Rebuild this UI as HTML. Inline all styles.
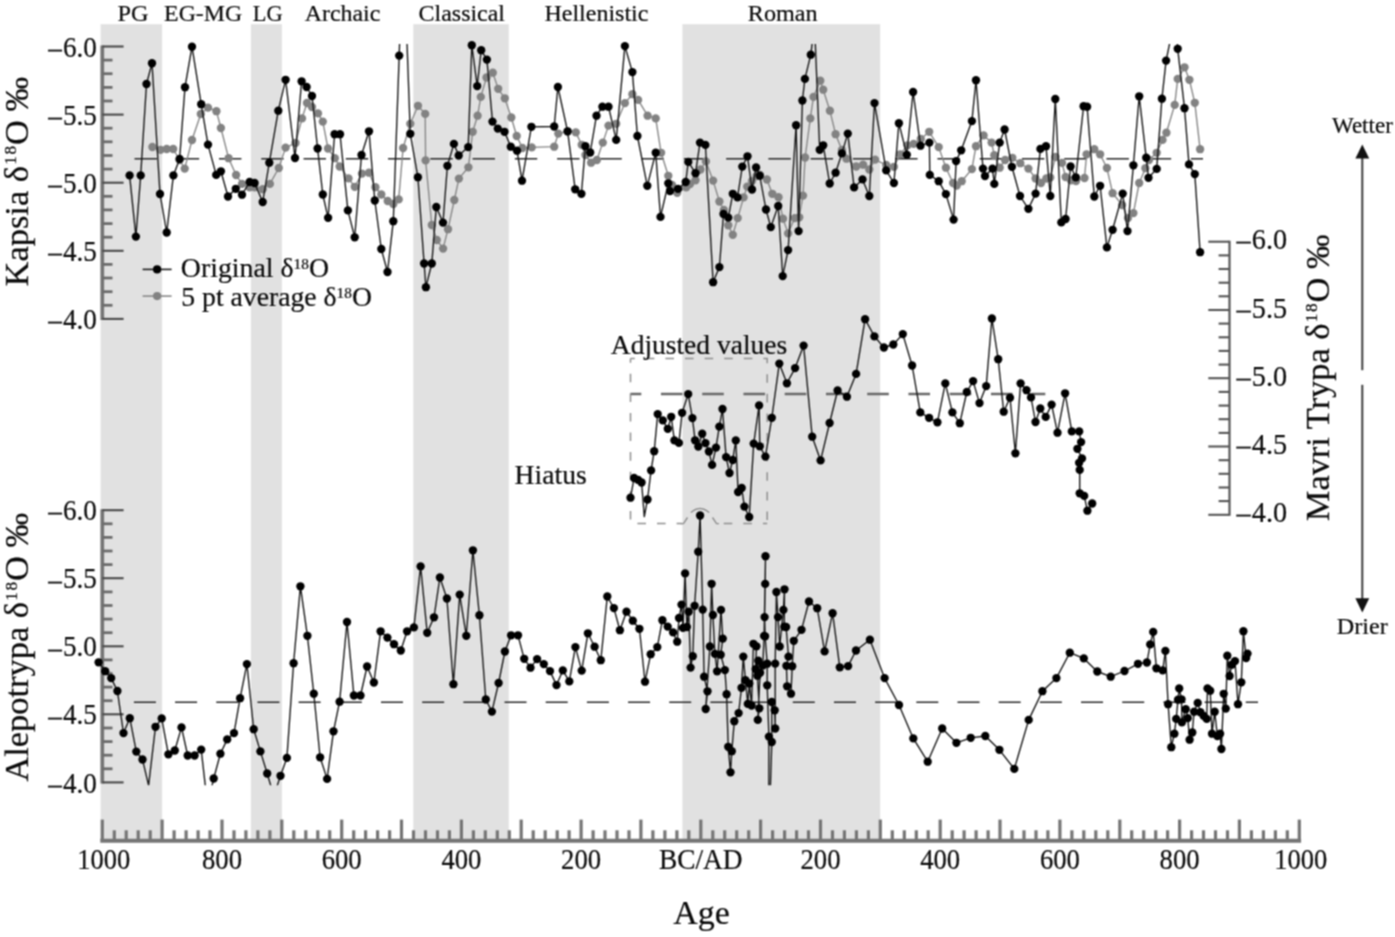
<!DOCTYPE html>
<html lang="en"><head><meta charset="utf-8"><title>Speleothem δ18O records: Kapsia, Mavri Trypa, Alepotrypa</title>
<style>
html,body{margin:0;padding:0;background:#fff;}
body{width:1395px;height:937px;overflow:hidden;}
svg{display:block;font-family:"Liberation Serif","DejaVu Serif",serif;fill:#0a0a0a;}
text{stroke:#0a0a0a;stroke-width:0.2px;}
.ax{stroke:#757575;fill:none;}
.tl{font-size:28.6px;}
.per{font-size:24px;text-anchor:middle;}
.in{font-size:27px;}
.ttl{font-size:34.5px;}
.sm{font-size:22.5px;}
</style></head><body>
<svg width="1395" height="937" viewBox="0 0 1395 937">
<defs>
<filter id="soft" filterUnits="userSpaceOnUse" x="-5" y="-5" width="1405" height="947" color-interpolation-filters="sRGB"><feConvolveMatrix order="3" kernelMatrix="1 2 1 2 4 2 1 2 1" divisor="16" edgeMode="duplicate" preserveAlpha="true"/></filter>
<clipPath id="ck"><rect x="95" y="44" width="1200" height="300"/></clipPath>
<clipPath id="ca"><rect x="95" y="500" width="1200" height="285.2"/></clipPath>
</defs>
<g filter="url(#soft)">
<rect x="-5" y="-5" width="1405" height="947" fill="#fff"/>
<rect x="100.6" y="24.2" width="61.5" height="816.3" fill="#e1e1e1"/>
<rect x="250.9" y="24.2" width="31.0" height="816.3" fill="#e1e1e1"/>
<rect x="413.3" y="24.2" width="95.5" height="816.3" fill="#e1e1e1"/>
<rect x="682.4" y="24.2" width="197.8" height="816.3" fill="#e1e1e1"/>
<text class="per" x="133.0" y="20.6" textLength="31.0" lengthAdjust="spacingAndGlyphs">PG</text>
<text class="per" x="203.1" y="20.6" textLength="78.0" lengthAdjust="spacingAndGlyphs">EG-MG</text>
<text class="per" x="267.8" y="20.6" textLength="29.9" lengthAdjust="spacingAndGlyphs">LG</text>
<text class="per" x="342.5" y="20.6" textLength="75.7" lengthAdjust="spacingAndGlyphs">Archaic</text>
<text class="per" x="461.8" y="20.6" textLength="86.4" lengthAdjust="spacingAndGlyphs">Classical</text>
<text class="per" x="596.4" y="20.6" textLength="104.0" lengthAdjust="spacingAndGlyphs">Hellenistic</text>
<text class="per" x="782.7" y="20.6" textLength="69.9" lengthAdjust="spacingAndGlyphs">Roman</text>
<line class="ax" x1="102.3" y1="45.5" x2="102.3" y2="319.9" stroke-width="3.7"/>
<line x1="102.3" y1="46.5" x2="123.6" y2="46.5" stroke="#4a4a4a" stroke-width="2.1"/>
<line x1="102.3" y1="60.1" x2="112.5" y2="60.1" stroke="#6c6c6c" stroke-width="2.8"/>
<line x1="102.3" y1="73.7" x2="112.5" y2="73.7" stroke="#6c6c6c" stroke-width="2.8"/>
<line x1="102.3" y1="87.4" x2="112.5" y2="87.4" stroke="#6c6c6c" stroke-width="2.8"/>
<line x1="102.3" y1="101.0" x2="112.5" y2="101.0" stroke="#6c6c6c" stroke-width="2.8"/>
<line x1="102.3" y1="114.6" x2="123.6" y2="114.6" stroke="#4a4a4a" stroke-width="2.1"/>
<line x1="102.3" y1="128.2" x2="112.5" y2="128.2" stroke="#6c6c6c" stroke-width="2.8"/>
<line x1="102.3" y1="141.8" x2="112.5" y2="141.8" stroke="#6c6c6c" stroke-width="2.8"/>
<line x1="102.3" y1="155.5" x2="112.5" y2="155.5" stroke="#6c6c6c" stroke-width="2.8"/>
<line x1="102.3" y1="169.1" x2="112.5" y2="169.1" stroke="#6c6c6c" stroke-width="2.8"/>
<line x1="102.3" y1="182.7" x2="123.6" y2="182.7" stroke="#4a4a4a" stroke-width="2.1"/>
<line x1="102.3" y1="196.3" x2="112.5" y2="196.3" stroke="#6c6c6c" stroke-width="2.8"/>
<line x1="102.3" y1="209.9" x2="112.5" y2="209.9" stroke="#6c6c6c" stroke-width="2.8"/>
<line x1="102.3" y1="223.6" x2="112.5" y2="223.6" stroke="#6c6c6c" stroke-width="2.8"/>
<line x1="102.3" y1="237.2" x2="112.5" y2="237.2" stroke="#6c6c6c" stroke-width="2.8"/>
<line x1="102.3" y1="250.8" x2="123.6" y2="250.8" stroke="#4a4a4a" stroke-width="2.1"/>
<line x1="102.3" y1="264.4" x2="112.5" y2="264.4" stroke="#6c6c6c" stroke-width="2.8"/>
<line x1="102.3" y1="278.0" x2="112.5" y2="278.0" stroke="#6c6c6c" stroke-width="2.8"/>
<line x1="102.3" y1="291.7" x2="112.5" y2="291.7" stroke="#6c6c6c" stroke-width="2.8"/>
<line x1="102.3" y1="305.3" x2="112.5" y2="305.3" stroke="#6c6c6c" stroke-width="2.8"/>
<line x1="102.3" y1="318.9" x2="123.6" y2="318.9" stroke="#4a4a4a" stroke-width="2.1"/>
<text class="tl" x="48.2" y="56.6" textLength="48.6" lengthAdjust="spacingAndGlyphs"><tspan dy="1.1">–</tspan><tspan dy="-1.1" dx="1.2">6.0</tspan></text>
<text class="tl" x="48.2" y="124.7" textLength="48.6" lengthAdjust="spacingAndGlyphs"><tspan dy="1.1">–</tspan><tspan dy="-1.1" dx="1.2">5.5</tspan></text>
<text class="tl" x="48.2" y="192.8" textLength="48.6" lengthAdjust="spacingAndGlyphs"><tspan dy="1.1">–</tspan><tspan dy="-1.1" dx="1.2">5.0</tspan></text>
<text class="tl" x="48.2" y="260.9" textLength="48.6" lengthAdjust="spacingAndGlyphs"><tspan dy="1.1">–</tspan><tspan dy="-1.1" dx="1.2">4.5</tspan></text>
<text class="tl" x="48.2" y="329.0" textLength="48.6" lengthAdjust="spacingAndGlyphs"><tspan dy="1.1">–</tspan><tspan dy="-1.1" dx="1.2">4.0</tspan></text>
<line class="ax" x1="102.3" y1="509.2" x2="102.3" y2="783.4" stroke-width="3.7"/>
<line x1="102.3" y1="510.2" x2="123.6" y2="510.2" stroke="#4a4a4a" stroke-width="2.1"/>
<line x1="102.3" y1="523.8" x2="112.5" y2="523.8" stroke="#6c6c6c" stroke-width="2.8"/>
<line x1="102.3" y1="537.4" x2="112.5" y2="537.4" stroke="#6c6c6c" stroke-width="2.8"/>
<line x1="102.3" y1="551.0" x2="112.5" y2="551.0" stroke="#6c6c6c" stroke-width="2.8"/>
<line x1="102.3" y1="564.6" x2="112.5" y2="564.6" stroke="#6c6c6c" stroke-width="2.8"/>
<line x1="102.3" y1="578.2" x2="123.6" y2="578.2" stroke="#4a4a4a" stroke-width="2.1"/>
<line x1="102.3" y1="591.9" x2="112.5" y2="591.9" stroke="#6c6c6c" stroke-width="2.8"/>
<line x1="102.3" y1="605.5" x2="112.5" y2="605.5" stroke="#6c6c6c" stroke-width="2.8"/>
<line x1="102.3" y1="619.1" x2="112.5" y2="619.1" stroke="#6c6c6c" stroke-width="2.8"/>
<line x1="102.3" y1="632.7" x2="112.5" y2="632.7" stroke="#6c6c6c" stroke-width="2.8"/>
<line x1="102.3" y1="646.3" x2="123.6" y2="646.3" stroke="#4a4a4a" stroke-width="2.1"/>
<line x1="102.3" y1="659.9" x2="112.5" y2="659.9" stroke="#6c6c6c" stroke-width="2.8"/>
<line x1="102.3" y1="673.5" x2="112.5" y2="673.5" stroke="#6c6c6c" stroke-width="2.8"/>
<line x1="102.3" y1="687.1" x2="112.5" y2="687.1" stroke="#6c6c6c" stroke-width="2.8"/>
<line x1="102.3" y1="700.7" x2="112.5" y2="700.7" stroke="#6c6c6c" stroke-width="2.8"/>
<line x1="102.3" y1="714.3" x2="123.6" y2="714.3" stroke="#4a4a4a" stroke-width="2.1"/>
<line x1="102.3" y1="728.0" x2="112.5" y2="728.0" stroke="#6c6c6c" stroke-width="2.8"/>
<line x1="102.3" y1="741.6" x2="112.5" y2="741.6" stroke="#6c6c6c" stroke-width="2.8"/>
<line x1="102.3" y1="755.2" x2="112.5" y2="755.2" stroke="#6c6c6c" stroke-width="2.8"/>
<line x1="102.3" y1="768.8" x2="112.5" y2="768.8" stroke="#6c6c6c" stroke-width="2.8"/>
<line x1="102.3" y1="782.4" x2="123.6" y2="782.4" stroke="#4a4a4a" stroke-width="2.1"/>
<text class="tl" x="48.2" y="520.3" textLength="48.6" lengthAdjust="spacingAndGlyphs"><tspan dy="1.1">–</tspan><tspan dy="-1.1" dx="1.2">6.0</tspan></text>
<text class="tl" x="48.2" y="588.4" textLength="48.6" lengthAdjust="spacingAndGlyphs"><tspan dy="1.1">–</tspan><tspan dy="-1.1" dx="1.2">5.5</tspan></text>
<text class="tl" x="48.2" y="656.4" textLength="48.6" lengthAdjust="spacingAndGlyphs"><tspan dy="1.1">–</tspan><tspan dy="-1.1" dx="1.2">5.0</tspan></text>
<text class="tl" x="48.2" y="724.4" textLength="48.6" lengthAdjust="spacingAndGlyphs"><tspan dy="1.1">–</tspan><tspan dy="-1.1" dx="1.2">4.5</tspan></text>
<text class="tl" x="48.2" y="792.5" textLength="48.6" lengthAdjust="spacingAndGlyphs"><tspan dy="1.1">–</tspan><tspan dy="-1.1" dx="1.2">4.0</tspan></text>
<line x1="1229.5" y1="240.7" x2="1229.5" y2="515.8" stroke-width="2.2" stroke="#555"/>
<line x1="1229.5" y1="241.7" x2="1208.3" y2="241.7" stroke-width="2.1" stroke="#555"/>
<line x1="1229.5" y1="255.4" x2="1218.6" y2="255.4" stroke-width="2.1" stroke="#555"/>
<line x1="1229.5" y1="269.0" x2="1218.6" y2="269.0" stroke-width="2.1" stroke="#555"/>
<line x1="1229.5" y1="282.7" x2="1218.6" y2="282.7" stroke-width="2.1" stroke="#555"/>
<line x1="1229.5" y1="296.3" x2="1218.6" y2="296.3" stroke-width="2.1" stroke="#555"/>
<line x1="1229.5" y1="310.0" x2="1208.3" y2="310.0" stroke-width="2.1" stroke="#555"/>
<line x1="1229.5" y1="323.6" x2="1218.6" y2="323.6" stroke-width="2.1" stroke="#555"/>
<line x1="1229.5" y1="337.3" x2="1218.6" y2="337.3" stroke-width="2.1" stroke="#555"/>
<line x1="1229.5" y1="350.9" x2="1218.6" y2="350.9" stroke-width="2.1" stroke="#555"/>
<line x1="1229.5" y1="364.6" x2="1218.6" y2="364.6" stroke-width="2.1" stroke="#555"/>
<line x1="1229.5" y1="378.2" x2="1208.3" y2="378.2" stroke-width="2.1" stroke="#555"/>
<line x1="1229.5" y1="391.9" x2="1218.6" y2="391.9" stroke-width="2.1" stroke="#555"/>
<line x1="1229.5" y1="405.6" x2="1218.6" y2="405.6" stroke-width="2.1" stroke="#555"/>
<line x1="1229.5" y1="419.2" x2="1218.6" y2="419.2" stroke-width="2.1" stroke="#555"/>
<line x1="1229.5" y1="432.9" x2="1218.6" y2="432.9" stroke-width="2.1" stroke="#555"/>
<line x1="1229.5" y1="446.5" x2="1208.3" y2="446.5" stroke-width="2.1" stroke="#555"/>
<line x1="1229.5" y1="460.2" x2="1218.6" y2="460.2" stroke-width="2.1" stroke="#555"/>
<line x1="1229.5" y1="473.8" x2="1218.6" y2="473.8" stroke-width="2.1" stroke="#555"/>
<line x1="1229.5" y1="487.5" x2="1218.6" y2="487.5" stroke-width="2.1" stroke="#555"/>
<line x1="1229.5" y1="501.1" x2="1218.6" y2="501.1" stroke-width="2.1" stroke="#555"/>
<line x1="1229.5" y1="514.8" x2="1208.3" y2="514.8" stroke-width="2.1" stroke="#555"/>
<text class="tl" x="1236.5" y="249.2" textLength="50.6" lengthAdjust="spacingAndGlyphs"><tspan dy="1.1">–</tspan><tspan dy="-1.1" dx="1.2">6.0</tspan></text>
<text class="tl" x="1236.5" y="317.5" textLength="50.6" lengthAdjust="spacingAndGlyphs"><tspan dy="1.1">–</tspan><tspan dy="-1.1" dx="1.2">5.5</tspan></text>
<text class="tl" x="1236.5" y="385.8" textLength="50.6" lengthAdjust="spacingAndGlyphs"><tspan dy="1.1">–</tspan><tspan dy="-1.1" dx="1.2">5.0</tspan></text>
<text class="tl" x="1236.5" y="454.0" textLength="50.6" lengthAdjust="spacingAndGlyphs"><tspan dy="1.1">–</tspan><tspan dy="-1.1" dx="1.2">4.5</tspan></text>
<text class="tl" x="1236.5" y="522.3" textLength="50.6" lengthAdjust="spacingAndGlyphs"><tspan dy="1.1">–</tspan><tspan dy="-1.1" dx="1.2">4.0</tspan></text>
<line class="ax" x1="100.3" y1="840.7" x2="1301.1" y2="840.7" stroke-width="4"/>
<line class="ax" x1="102.3" y1="819.6" x2="102.3" y2="840" stroke-width="3.2"/>
<line class="ax" x1="114.3" y1="830.3" x2="114.3" y2="840" stroke-width="3.2"/>
<line class="ax" x1="126.2" y1="830.3" x2="126.2" y2="840" stroke-width="3.2"/>
<line class="ax" x1="138.2" y1="830.3" x2="138.2" y2="840" stroke-width="3.2"/>
<line class="ax" x1="150.2" y1="830.3" x2="150.2" y2="840" stroke-width="3.2"/>
<line class="ax" x1="162.1" y1="819.6" x2="162.1" y2="840" stroke-width="3.2"/>
<line class="ax" x1="174.1" y1="830.3" x2="174.1" y2="840" stroke-width="3.2"/>
<line class="ax" x1="186.1" y1="830.3" x2="186.1" y2="840" stroke-width="3.2"/>
<line class="ax" x1="198.1" y1="830.3" x2="198.1" y2="840" stroke-width="3.2"/>
<line class="ax" x1="210.0" y1="830.3" x2="210.0" y2="840" stroke-width="3.2"/>
<line class="ax" x1="222.0" y1="819.6" x2="222.0" y2="840" stroke-width="3.2"/>
<line class="ax" x1="234.0" y1="830.3" x2="234.0" y2="840" stroke-width="3.2"/>
<line class="ax" x1="245.9" y1="830.3" x2="245.9" y2="840" stroke-width="3.2"/>
<line class="ax" x1="257.9" y1="830.3" x2="257.9" y2="840" stroke-width="3.2"/>
<line class="ax" x1="269.9" y1="830.3" x2="269.9" y2="840" stroke-width="3.2"/>
<line class="ax" x1="281.8" y1="819.6" x2="281.8" y2="840" stroke-width="3.2"/>
<line class="ax" x1="293.8" y1="830.3" x2="293.8" y2="840" stroke-width="3.2"/>
<line class="ax" x1="305.8" y1="830.3" x2="305.8" y2="840" stroke-width="3.2"/>
<line class="ax" x1="317.8" y1="830.3" x2="317.8" y2="840" stroke-width="3.2"/>
<line class="ax" x1="329.7" y1="830.3" x2="329.7" y2="840" stroke-width="3.2"/>
<line class="ax" x1="341.7" y1="819.6" x2="341.7" y2="840" stroke-width="3.2"/>
<line class="ax" x1="353.7" y1="830.3" x2="353.7" y2="840" stroke-width="3.2"/>
<line class="ax" x1="365.6" y1="830.3" x2="365.6" y2="840" stroke-width="3.2"/>
<line class="ax" x1="377.6" y1="830.3" x2="377.6" y2="840" stroke-width="3.2"/>
<line class="ax" x1="389.6" y1="830.3" x2="389.6" y2="840" stroke-width="3.2"/>
<line class="ax" x1="401.5" y1="819.6" x2="401.5" y2="840" stroke-width="3.2"/>
<line class="ax" x1="413.5" y1="830.3" x2="413.5" y2="840" stroke-width="3.2"/>
<line class="ax" x1="425.5" y1="830.3" x2="425.5" y2="840" stroke-width="3.2"/>
<line class="ax" x1="437.5" y1="830.3" x2="437.5" y2="840" stroke-width="3.2"/>
<line class="ax" x1="449.4" y1="830.3" x2="449.4" y2="840" stroke-width="3.2"/>
<line class="ax" x1="461.4" y1="819.6" x2="461.4" y2="840" stroke-width="3.2"/>
<line class="ax" x1="473.4" y1="830.3" x2="473.4" y2="840" stroke-width="3.2"/>
<line class="ax" x1="485.3" y1="830.3" x2="485.3" y2="840" stroke-width="3.2"/>
<line class="ax" x1="497.3" y1="830.3" x2="497.3" y2="840" stroke-width="3.2"/>
<line class="ax" x1="509.3" y1="830.3" x2="509.3" y2="840" stroke-width="3.2"/>
<line class="ax" x1="521.2" y1="819.6" x2="521.2" y2="840" stroke-width="3.2"/>
<line class="ax" x1="533.2" y1="830.3" x2="533.2" y2="840" stroke-width="3.2"/>
<line class="ax" x1="545.2" y1="830.3" x2="545.2" y2="840" stroke-width="3.2"/>
<line class="ax" x1="557.2" y1="830.3" x2="557.2" y2="840" stroke-width="3.2"/>
<line class="ax" x1="569.1" y1="830.3" x2="569.1" y2="840" stroke-width="3.2"/>
<line class="ax" x1="581.1" y1="819.6" x2="581.1" y2="840" stroke-width="3.2"/>
<line class="ax" x1="593.1" y1="830.3" x2="593.1" y2="840" stroke-width="3.2"/>
<line class="ax" x1="605.0" y1="830.3" x2="605.0" y2="840" stroke-width="3.2"/>
<line class="ax" x1="617.0" y1="830.3" x2="617.0" y2="840" stroke-width="3.2"/>
<line class="ax" x1="629.0" y1="830.3" x2="629.0" y2="840" stroke-width="3.2"/>
<line class="ax" x1="640.9" y1="819.6" x2="640.9" y2="840" stroke-width="3.2"/>
<line class="ax" x1="652.9" y1="830.3" x2="652.9" y2="840" stroke-width="3.2"/>
<line class="ax" x1="664.9" y1="830.3" x2="664.9" y2="840" stroke-width="3.2"/>
<line class="ax" x1="676.9" y1="830.3" x2="676.9" y2="840" stroke-width="3.2"/>
<line class="ax" x1="688.8" y1="830.3" x2="688.8" y2="840" stroke-width="3.2"/>
<line class="ax" x1="700.8" y1="819.6" x2="700.8" y2="840" stroke-width="3.2"/>
<line class="ax" x1="712.8" y1="830.3" x2="712.8" y2="840" stroke-width="3.2"/>
<line class="ax" x1="724.7" y1="830.3" x2="724.7" y2="840" stroke-width="3.2"/>
<line class="ax" x1="736.7" y1="830.3" x2="736.7" y2="840" stroke-width="3.2"/>
<line class="ax" x1="748.7" y1="830.3" x2="748.7" y2="840" stroke-width="3.2"/>
<line class="ax" x1="760.6" y1="819.6" x2="760.6" y2="840" stroke-width="3.2"/>
<line class="ax" x1="772.6" y1="830.3" x2="772.6" y2="840" stroke-width="3.2"/>
<line class="ax" x1="784.6" y1="830.3" x2="784.6" y2="840" stroke-width="3.2"/>
<line class="ax" x1="796.6" y1="830.3" x2="796.6" y2="840" stroke-width="3.2"/>
<line class="ax" x1="808.5" y1="830.3" x2="808.5" y2="840" stroke-width="3.2"/>
<line class="ax" x1="820.5" y1="819.6" x2="820.5" y2="840" stroke-width="3.2"/>
<line class="ax" x1="832.5" y1="830.3" x2="832.5" y2="840" stroke-width="3.2"/>
<line class="ax" x1="844.4" y1="830.3" x2="844.4" y2="840" stroke-width="3.2"/>
<line class="ax" x1="856.4" y1="830.3" x2="856.4" y2="840" stroke-width="3.2"/>
<line class="ax" x1="868.4" y1="830.3" x2="868.4" y2="840" stroke-width="3.2"/>
<line class="ax" x1="880.3" y1="819.6" x2="880.3" y2="840" stroke-width="3.2"/>
<line class="ax" x1="892.3" y1="830.3" x2="892.3" y2="840" stroke-width="3.2"/>
<line class="ax" x1="904.3" y1="830.3" x2="904.3" y2="840" stroke-width="3.2"/>
<line class="ax" x1="916.3" y1="830.3" x2="916.3" y2="840" stroke-width="3.2"/>
<line class="ax" x1="928.2" y1="830.3" x2="928.2" y2="840" stroke-width="3.2"/>
<line class="ax" x1="940.2" y1="819.6" x2="940.2" y2="840" stroke-width="3.2"/>
<line class="ax" x1="952.2" y1="830.3" x2="952.2" y2="840" stroke-width="3.2"/>
<line class="ax" x1="964.1" y1="830.3" x2="964.1" y2="840" stroke-width="3.2"/>
<line class="ax" x1="976.1" y1="830.3" x2="976.1" y2="840" stroke-width="3.2"/>
<line class="ax" x1="988.1" y1="830.3" x2="988.1" y2="840" stroke-width="3.2"/>
<line class="ax" x1="1000.0" y1="819.6" x2="1000.0" y2="840" stroke-width="3.2"/>
<line class="ax" x1="1012.0" y1="830.3" x2="1012.0" y2="840" stroke-width="3.2"/>
<line class="ax" x1="1024.0" y1="830.3" x2="1024.0" y2="840" stroke-width="3.2"/>
<line class="ax" x1="1036.0" y1="830.3" x2="1036.0" y2="840" stroke-width="3.2"/>
<line class="ax" x1="1047.9" y1="830.3" x2="1047.9" y2="840" stroke-width="3.2"/>
<line class="ax" x1="1059.9" y1="819.6" x2="1059.9" y2="840" stroke-width="3.2"/>
<line class="ax" x1="1071.9" y1="830.3" x2="1071.9" y2="840" stroke-width="3.2"/>
<line class="ax" x1="1083.8" y1="830.3" x2="1083.8" y2="840" stroke-width="3.2"/>
<line class="ax" x1="1095.8" y1="830.3" x2="1095.8" y2="840" stroke-width="3.2"/>
<line class="ax" x1="1107.8" y1="830.3" x2="1107.8" y2="840" stroke-width="3.2"/>
<line class="ax" x1="1119.8" y1="819.6" x2="1119.8" y2="840" stroke-width="3.2"/>
<line class="ax" x1="1131.7" y1="830.3" x2="1131.7" y2="840" stroke-width="3.2"/>
<line class="ax" x1="1143.7" y1="830.3" x2="1143.7" y2="840" stroke-width="3.2"/>
<line class="ax" x1="1155.7" y1="830.3" x2="1155.7" y2="840" stroke-width="3.2"/>
<line class="ax" x1="1167.6" y1="830.3" x2="1167.6" y2="840" stroke-width="3.2"/>
<line class="ax" x1="1179.6" y1="819.6" x2="1179.6" y2="840" stroke-width="3.2"/>
<line class="ax" x1="1191.6" y1="830.3" x2="1191.6" y2="840" stroke-width="3.2"/>
<line class="ax" x1="1203.5" y1="830.3" x2="1203.5" y2="840" stroke-width="3.2"/>
<line class="ax" x1="1215.5" y1="830.3" x2="1215.5" y2="840" stroke-width="3.2"/>
<line class="ax" x1="1227.5" y1="830.3" x2="1227.5" y2="840" stroke-width="3.2"/>
<line class="ax" x1="1239.4" y1="819.6" x2="1239.4" y2="840" stroke-width="3.2"/>
<line class="ax" x1="1251.4" y1="830.3" x2="1251.4" y2="840" stroke-width="3.2"/>
<line class="ax" x1="1263.4" y1="830.3" x2="1263.4" y2="840" stroke-width="3.2"/>
<line class="ax" x1="1275.4" y1="830.3" x2="1275.4" y2="840" stroke-width="3.2"/>
<line class="ax" x1="1287.3" y1="830.3" x2="1287.3" y2="840" stroke-width="3.2"/>
<line class="ax" x1="1299.3" y1="819.6" x2="1299.3" y2="840" stroke-width="3.2"/>
<text class="tl" x="77.3" y="869.1" textLength="53" lengthAdjust="spacingAndGlyphs">1000</text>
<text class="tl" x="202.0" y="869.1" textLength="40" lengthAdjust="spacingAndGlyphs">800</text>
<text class="tl" x="321.7" y="869.1" textLength="40" lengthAdjust="spacingAndGlyphs">600</text>
<text class="tl" x="441.4" y="869.1" textLength="40" lengthAdjust="spacingAndGlyphs">400</text>
<text class="tl" x="561.1" y="869.1" textLength="40" lengthAdjust="spacingAndGlyphs">200</text>
<text class="tl" x="658.9" y="869.1" textLength="83.7" lengthAdjust="spacingAndGlyphs">BC/AD</text>
<text class="tl" x="800.5" y="869.1" textLength="40" lengthAdjust="spacingAndGlyphs">200</text>
<text class="tl" x="920.2" y="869.1" textLength="40" lengthAdjust="spacingAndGlyphs">400</text>
<text class="tl" x="1039.9" y="869.1" textLength="40" lengthAdjust="spacingAndGlyphs">600</text>
<text class="tl" x="1159.6" y="869.1" textLength="40" lengthAdjust="spacingAndGlyphs">800</text>
<text class="tl" x="1274.3" y="869.1" textLength="53" lengthAdjust="spacingAndGlyphs">1000</text>
<text x="673.2" y="924.4" font-size="34px" textLength="56.6" lengthAdjust="spacingAndGlyphs">Age</text>
<text class="ttl" transform="translate(28.0,286.5) rotate(-90)" textLength="209.5" lengthAdjust="spacingAndGlyphs">Kapsia δ<tspan dx="1.2" dy="-11.6" font-size="17.2px">1</tspan><tspan dx="1.6" font-size="17.2px">8</tspan><tspan dx="1" dy="11.6">O</tspan> ‰</text>
<text class="ttl" transform="translate(28.3,781.6) rotate(-90)" textLength="268.5" lengthAdjust="spacingAndGlyphs">Alepotrypa δ<tspan dx="1.2" dy="-11.6" font-size="17.2px">1</tspan><tspan dx="1.6" font-size="17.2px">8</tspan><tspan dx="1" dy="11.6">O</tspan> ‰</text>
<text class="ttl" transform="translate(1328.6,521.2) rotate(-90)" textLength="286.5" lengthAdjust="spacingAndGlyphs">Mavri Trypa δ<tspan dx="1.2" dy="-11.6" font-size="17.2px">1</tspan><tspan dx="1.6" font-size="17.2px">8</tspan><tspan dx="1" dy="11.6">O</tspan> ‰</text>
<text class="sm" x="1332" y="133" textLength="60.8" lengthAdjust="spacingAndGlyphs">Wetter</text>
<text class="sm" x="1336.8" y="634" textLength="51" lengthAdjust="spacingAndGlyphs">Drier</text>
<line x1="1362.3" y1="157" x2="1362.3" y2="370.2" stroke="#3c3c3c" stroke-width="2"/>
<line x1="1362.3" y1="384.8" x2="1362.3" y2="599" stroke="#3c3c3c" stroke-width="2"/>
<polygon points="1362.3,144.6 1369.2,158.6 1355.4,158.6" fill="#111"/>
<polygon points="1362.3,612.4 1369.2,598.2 1355.4,598.2" fill="#111"/>
<line x1="134.5" y1="158.7" x2="1203" y2="158.7" stroke="#2a2a2a" stroke-width="1.5" stroke-dasharray="22.4 19.86"/>
<line x1="133.9" y1="702.2" x2="1258" y2="702.2" stroke="#2a2a2a" stroke-width="1.5" stroke-dasharray="22 19.18"/>
<line x1="630.5" y1="394" x2="1045.3" y2="394" stroke="#686868" stroke-width="2.3" stroke-dasharray="21.6 19.65" stroke-dashoffset="10.8"/>
<path d="M630.5,358.4 H767.2 V523.6" fill="none" stroke="#8f8f8f" stroke-width="1.5" stroke-dasharray="8.6 11" stroke-dashoffset="4.3"/>
<path d="M630.5,358.4 V523.6 H682" fill="none" stroke="#8f8f8f" stroke-width="1.5" stroke-dasharray="8.6 11" stroke-dashoffset="4.3"/>
<path d="M767.2,523.6 H718" fill="none" stroke="#8f8f8f" stroke-width="1.5" stroke-dasharray="8.6 11" stroke-dashoffset="4.3"/>
<path d="M680.5,523.6 H683.5 L687.5,517.5 M690.8,512.6 Q700,504.2 709.2,512.6 M712.5,517.5 L716.5,523.6 H719" fill="none" stroke="#8f8f8f" stroke-width="1.4"/>
<g clip-path="url(#ck)"><path d="M152.4,147.0 L160.5,149.8 L166.7,149.0 L173.2,149.0 L179.6,160.0 L184.7,168.6 L192.0,140.0 L200.8,114.0 L208.0,107.6 L216.4,111.2 L220.9,128.0 L228.6,158.2 L236.1,175.0 L242.0,183.9 L249.6,187.4 L254.6,187.4 L262.7,189.2 L269.9,183.9 L278.8,168.0 L285.6,147.6 L295.5,143.0 L302.0,118.4 L307.0,103.0 L312.0,107.0 L318.0,113.4 L322.8,121.6 L328.0,148.5 L334.8,158.2 L339.7,166.5 L348.5,178.4 L354.8,186.8 L361.9,173.6 L369.0,172.7 L375.4,187.2 L381.3,194.5 L387.7,201.0 L393.3,204.0 L398.7,199.4 L403.1,148.0 L410.3,123.8 L418.0,105.8 L425.2,113.9 L425.6,160.4 L431.8,225.0 L436.8,240.0 L443.1,248.6 L448.0,229.2 L454.3,200.0 L458.9,178.6 L468.4,167.3 L472.7,131.8 L477.6,115.7 L480.8,96.9 L486.5,77.5 L492.8,72.7 L498.2,88.8 L504.8,98.3 L511.3,117.5 L516.7,136.0 L522.4,148.0 L531.7,147.4 L554.2,146.7 L558.3,133.6 L567.6,131.5 L575.8,132.4 L581.7,144.8 L585.5,155.0 L591.1,162.7 L596.9,160.0 L602.8,142.6 L608.5,125.6 L616.2,123.8 L624.9,103.1 L632.4,94.2 L638.1,99.9 L647.6,115.7 L655.7,118.4 L661.1,152.8 L668.3,175.8 L672.0,185.0 L677.2,192.8 L686.2,187.4 L690.0,184.0 L695.5,180.3 L700.5,169.5 L705.9,161.4 L713.1,180.6 L719.4,201.5 L723.9,210.0 L728.3,225.3 L732.8,234.8 L737.7,218.1 L743.6,197.4 L747.2,186.6 L752.0,181.0 L756.5,176.0 L760.0,175.0 L766.9,179.5 L772.3,193.8 L778.5,197.2 L783.0,218.7 L788.1,233.4 L794.7,218.1 L799.2,217.3 L803.0,195.6 L805.1,157.5 L810.3,118.4 L813.5,96.9 L820.3,80.7 L823.2,89.7 L829.9,110.7 L835.6,134.2 L841.9,150.0 L846.4,158.7 L856.2,166.5 L863.1,164.7 L869.3,169.5 L875.1,159.6 L886.2,165.0 L893.9,166.8 L900.2,154.3 L907.4,145.3 L913.6,143.9 L920.8,139.0 L929.2,131.8 L938.7,147.1 L945.9,167.7 L953.1,183.0 L956.7,185.6 L961.7,181.2 L971.9,169.1 L976.0,146.2 L983.6,135.4 L991.6,142.6 L994.3,155.2 L999.7,167.7 L1005.1,160.0 L1012.3,157.8 L1020.3,163.2 L1028.4,168.6 L1035.6,178.5 L1041.0,183.0 L1046.3,178.5 L1050.2,177.5 L1055.5,157.0 L1062.0,162.9 L1065.6,177.0 L1071.0,180.4 L1076.0,181.0 L1084.5,178.0 L1086.6,154.3 L1094.3,149.2 L1100.1,154.3 L1106.9,168.0 L1112.6,193.2 L1122.1,205.0 L1127.9,218.1 L1133.4,213.1 L1139.2,183.0 L1145.4,168.2 L1149.0,160.0 L1156.7,152.8 L1162.5,139.9 L1166.4,132.7 L1174.7,104.9 L1177.7,78.9 L1184.5,67.3 L1189.4,79.8 L1194.8,102.8 L1200.1,149.2" fill="none" stroke="#858585" stroke-width="1.35" stroke-linejoin="round"/></g>
<g fill="#828282">
<circle cx="152.4" cy="147.0" r="4.15"/>
<circle cx="160.5" cy="149.8" r="4.15"/>
<circle cx="166.7" cy="149.0" r="4.15"/>
<circle cx="173.2" cy="149.0" r="4.15"/>
<circle cx="179.6" cy="160.0" r="4.15"/>
<circle cx="184.7" cy="168.6" r="4.15"/>
<circle cx="192.0" cy="140.0" r="4.15"/>
<circle cx="200.8" cy="114.0" r="4.15"/>
<circle cx="208.0" cy="107.6" r="4.15"/>
<circle cx="216.4" cy="111.2" r="4.15"/>
<circle cx="220.9" cy="128.0" r="4.15"/>
<circle cx="228.6" cy="158.2" r="4.15"/>
<circle cx="236.1" cy="175.0" r="4.15"/>
<circle cx="242.0" cy="183.9" r="4.15"/>
<circle cx="249.6" cy="187.4" r="4.15"/>
<circle cx="254.6" cy="187.4" r="4.15"/>
<circle cx="262.7" cy="189.2" r="4.15"/>
<circle cx="269.9" cy="183.9" r="4.15"/>
<circle cx="278.8" cy="168.0" r="4.15"/>
<circle cx="285.6" cy="147.6" r="4.15"/>
<circle cx="295.5" cy="143.0" r="4.15"/>
<circle cx="302.0" cy="118.4" r="4.15"/>
<circle cx="307.0" cy="103.0" r="4.15"/>
<circle cx="312.0" cy="107.0" r="4.15"/>
<circle cx="318.0" cy="113.4" r="4.15"/>
<circle cx="322.8" cy="121.6" r="4.15"/>
<circle cx="328.0" cy="148.5" r="4.15"/>
<circle cx="334.8" cy="158.2" r="4.15"/>
<circle cx="339.7" cy="166.5" r="4.15"/>
<circle cx="348.5" cy="178.4" r="4.15"/>
<circle cx="354.8" cy="186.8" r="4.15"/>
<circle cx="361.9" cy="173.6" r="4.15"/>
<circle cx="369.0" cy="172.7" r="4.15"/>
<circle cx="375.4" cy="187.2" r="4.15"/>
<circle cx="381.3" cy="194.5" r="4.15"/>
<circle cx="387.7" cy="201.0" r="4.15"/>
<circle cx="393.3" cy="204.0" r="4.15"/>
<circle cx="398.7" cy="199.4" r="4.15"/>
<circle cx="403.1" cy="148.0" r="4.15"/>
<circle cx="410.3" cy="123.8" r="4.15"/>
<circle cx="418.0" cy="105.8" r="4.15"/>
<circle cx="425.2" cy="113.9" r="4.15"/>
<circle cx="425.6" cy="160.4" r="4.15"/>
<circle cx="431.8" cy="225.0" r="4.15"/>
<circle cx="436.8" cy="240.0" r="4.15"/>
<circle cx="443.1" cy="248.6" r="4.15"/>
<circle cx="448.0" cy="229.2" r="4.15"/>
<circle cx="454.3" cy="200.0" r="4.15"/>
<circle cx="458.9" cy="178.6" r="4.15"/>
<circle cx="468.4" cy="167.3" r="4.15"/>
<circle cx="472.7" cy="131.8" r="4.15"/>
<circle cx="477.6" cy="115.7" r="4.15"/>
<circle cx="480.8" cy="96.9" r="4.15"/>
<circle cx="486.5" cy="77.5" r="4.15"/>
<circle cx="492.8" cy="72.7" r="4.15"/>
<circle cx="498.2" cy="88.8" r="4.15"/>
<circle cx="504.8" cy="98.3" r="4.15"/>
<circle cx="511.3" cy="117.5" r="4.15"/>
<circle cx="516.7" cy="136.0" r="4.15"/>
<circle cx="522.4" cy="148.0" r="4.15"/>
<circle cx="531.7" cy="147.4" r="4.15"/>
<circle cx="554.2" cy="146.7" r="4.15"/>
<circle cx="558.3" cy="133.6" r="4.15"/>
<circle cx="567.6" cy="131.5" r="4.15"/>
<circle cx="575.8" cy="132.4" r="4.15"/>
<circle cx="581.7" cy="144.8" r="4.15"/>
<circle cx="585.5" cy="155.0" r="4.15"/>
<circle cx="591.1" cy="162.7" r="4.15"/>
<circle cx="596.9" cy="160.0" r="4.15"/>
<circle cx="602.8" cy="142.6" r="4.15"/>
<circle cx="608.5" cy="125.6" r="4.15"/>
<circle cx="616.2" cy="123.8" r="4.15"/>
<circle cx="624.9" cy="103.1" r="4.15"/>
<circle cx="632.4" cy="94.2" r="4.15"/>
<circle cx="638.1" cy="99.9" r="4.15"/>
<circle cx="647.6" cy="115.7" r="4.15"/>
<circle cx="655.7" cy="118.4" r="4.15"/>
<circle cx="661.1" cy="152.8" r="4.15"/>
<circle cx="668.3" cy="175.8" r="4.15"/>
<circle cx="672.0" cy="185.0" r="4.15"/>
<circle cx="677.2" cy="192.8" r="4.15"/>
<circle cx="686.2" cy="187.4" r="4.15"/>
<circle cx="690.0" cy="184.0" r="4.15"/>
<circle cx="695.5" cy="180.3" r="4.15"/>
<circle cx="700.5" cy="169.5" r="4.15"/>
<circle cx="705.9" cy="161.4" r="4.15"/>
<circle cx="713.1" cy="180.6" r="4.15"/>
<circle cx="719.4" cy="201.5" r="4.15"/>
<circle cx="723.9" cy="210.0" r="4.15"/>
<circle cx="728.3" cy="225.3" r="4.15"/>
<circle cx="732.8" cy="234.8" r="4.15"/>
<circle cx="737.7" cy="218.1" r="4.15"/>
<circle cx="743.6" cy="197.4" r="4.15"/>
<circle cx="747.2" cy="186.6" r="4.15"/>
<circle cx="752.0" cy="181.0" r="4.15"/>
<circle cx="756.5" cy="176.0" r="4.15"/>
<circle cx="760.0" cy="175.0" r="4.15"/>
<circle cx="766.9" cy="179.5" r="4.15"/>
<circle cx="772.3" cy="193.8" r="4.15"/>
<circle cx="778.5" cy="197.2" r="4.15"/>
<circle cx="783.0" cy="218.7" r="4.15"/>
<circle cx="788.1" cy="233.4" r="4.15"/>
<circle cx="794.7" cy="218.1" r="4.15"/>
<circle cx="799.2" cy="217.3" r="4.15"/>
<circle cx="803.0" cy="195.6" r="4.15"/>
<circle cx="805.1" cy="157.5" r="4.15"/>
<circle cx="810.3" cy="118.4" r="4.15"/>
<circle cx="813.5" cy="96.9" r="4.15"/>
<circle cx="820.3" cy="80.7" r="4.15"/>
<circle cx="823.2" cy="89.7" r="4.15"/>
<circle cx="829.9" cy="110.7" r="4.15"/>
<circle cx="835.6" cy="134.2" r="4.15"/>
<circle cx="841.9" cy="150.0" r="4.15"/>
<circle cx="846.4" cy="158.7" r="4.15"/>
<circle cx="856.2" cy="166.5" r="4.15"/>
<circle cx="863.1" cy="164.7" r="4.15"/>
<circle cx="869.3" cy="169.5" r="4.15"/>
<circle cx="875.1" cy="159.6" r="4.15"/>
<circle cx="886.2" cy="165.0" r="4.15"/>
<circle cx="893.9" cy="166.8" r="4.15"/>
<circle cx="900.2" cy="154.3" r="4.15"/>
<circle cx="907.4" cy="145.3" r="4.15"/>
<circle cx="913.6" cy="143.9" r="4.15"/>
<circle cx="920.8" cy="139.0" r="4.15"/>
<circle cx="929.2" cy="131.8" r="4.15"/>
<circle cx="938.7" cy="147.1" r="4.15"/>
<circle cx="945.9" cy="167.7" r="4.15"/>
<circle cx="953.1" cy="183.0" r="4.15"/>
<circle cx="956.7" cy="185.6" r="4.15"/>
<circle cx="961.7" cy="181.2" r="4.15"/>
<circle cx="971.9" cy="169.1" r="4.15"/>
<circle cx="976.0" cy="146.2" r="4.15"/>
<circle cx="983.6" cy="135.4" r="4.15"/>
<circle cx="991.6" cy="142.6" r="4.15"/>
<circle cx="994.3" cy="155.2" r="4.15"/>
<circle cx="999.7" cy="167.7" r="4.15"/>
<circle cx="1005.1" cy="160.0" r="4.15"/>
<circle cx="1012.3" cy="157.8" r="4.15"/>
<circle cx="1020.3" cy="163.2" r="4.15"/>
<circle cx="1028.4" cy="168.6" r="4.15"/>
<circle cx="1035.6" cy="178.5" r="4.15"/>
<circle cx="1041.0" cy="183.0" r="4.15"/>
<circle cx="1046.3" cy="178.5" r="4.15"/>
<circle cx="1050.2" cy="177.5" r="4.15"/>
<circle cx="1055.5" cy="157.0" r="4.15"/>
<circle cx="1062.0" cy="162.9" r="4.15"/>
<circle cx="1065.6" cy="177.0" r="4.15"/>
<circle cx="1071.0" cy="180.4" r="4.15"/>
<circle cx="1076.0" cy="181.0" r="4.15"/>
<circle cx="1084.5" cy="178.0" r="4.15"/>
<circle cx="1086.6" cy="154.3" r="4.15"/>
<circle cx="1094.3" cy="149.2" r="4.15"/>
<circle cx="1100.1" cy="154.3" r="4.15"/>
<circle cx="1106.9" cy="168.0" r="4.15"/>
<circle cx="1112.6" cy="193.2" r="4.15"/>
<circle cx="1122.1" cy="205.0" r="4.15"/>
<circle cx="1127.9" cy="218.1" r="4.15"/>
<circle cx="1133.4" cy="213.1" r="4.15"/>
<circle cx="1139.2" cy="183.0" r="4.15"/>
<circle cx="1145.4" cy="168.2" r="4.15"/>
<circle cx="1149.0" cy="160.0" r="4.15"/>
<circle cx="1156.7" cy="152.8" r="4.15"/>
<circle cx="1162.5" cy="139.9" r="4.15"/>
<circle cx="1166.4" cy="132.7" r="4.15"/>
<circle cx="1174.7" cy="104.9" r="4.15"/>
<circle cx="1177.7" cy="78.9" r="4.15"/>
<circle cx="1184.5" cy="67.3" r="4.15"/>
<circle cx="1189.4" cy="79.8" r="4.15"/>
<circle cx="1194.8" cy="102.8" r="4.15"/>
<circle cx="1200.1" cy="149.2" r="4.15"/>
</g>
<g clip-path="url(#ck)"><path d="M129.6,175.4 L135.9,236.6 L140.7,175.4 L146.5,84.0 L152.0,63.2 L160.0,194.0 L166.7,232.5 L173.4,175.4 L179.6,159.0 L185.0,87.2 L192.0,46.7 L201.2,104.2 L208.0,144.6 L216.2,174.9 L220.9,171.3 L228.0,196.5 L235.8,188.8 L242.0,194.7 L249.6,182.0 L254.6,183.0 L262.7,202.0 L269.3,162.7 L278.3,110.7 L285.6,79.8 L295.0,158.0 L301.6,81.3 L306.6,87.0 L312.0,96.0 L317.6,148.5 L322.8,194.5 L328.1,217.8 L334.6,134.2 L340.0,134.2 L347.9,210.4 L354.7,237.3 L361.5,155.0 L369.0,131.3 L374.8,200.5 L381.3,249.0 L387.5,272.0 L393.3,221.2 L399.2,55.6 L403.0,-68.0 L410.3,133.8 L417.9,177.2 L424.1,263.5 L425.9,287.2 L431.8,263.5 L436.3,207.0 L443.0,222.6 L447.4,165.8 L453.9,143.9 L458.7,155.5 L468.2,147.1 L471.8,45.2 L477.2,86.1 L481.2,50.2 L486.9,59.6 L492.5,121.6 L497.8,128.6 L504.5,131.8 L510.8,146.7 L517.0,150.7 L522.0,180.7 L531.4,126.8 L554.2,126.5 L557.9,87.0 L567.6,131.3 L575.2,189.3 L581.4,193.8 L585.4,146.2 L590.2,152.5 L596.5,115.7 L602.4,106.7 L608.5,106.7 L616.2,139.9 L624.9,46.1 L632.4,72.1 L637.4,136.0 L647.3,185.8 L655.7,152.7 L660.5,216.9 L668.3,183.3 L670.0,191.1 L678.0,188.9 L685.7,182.0 L688.3,161.9 L695.5,173.2 L700.0,142.6 L705.4,144.9 L713.1,282.2 L719.4,267.1 L723.5,214.0 L728.3,217.6 L732.8,193.8 L737.5,197.4 L742.3,166.6 L747.5,156.3 L752.0,189.5 L756.1,167.5 L759.7,175.7 L766.0,209.5 L770.8,227.1 L778.2,206.0 L782.7,276.1 L788.1,250.1 L796.1,125.2 L798.6,231.1 L802.4,100.5 L804.9,78.9 L810.8,54.7 L814.5,24.0 L819.7,149.8 L823.2,145.3 L829.7,183.5 L835.6,172.7 L841.9,153.4 L847.8,133.6 L854.1,187.4 L862.5,179.4 L869.3,196.0 L874.5,103.1 L886.2,170.4 L893.9,183.0 L898.9,123.2 L906.8,154.8 L913.1,92.0 L920.5,145.7 L929.4,142.6 L929.8,174.9 L938.7,181.2 L945.9,194.1 L953.6,219.6 L956.1,161.1 L961.2,150.3 L971.9,121.1 L976.0,80.2 L983.0,168.6 L985.0,176.1 L992.5,168.6 L994.3,183.9 L999.7,142.6 L1004.6,129.5 L1011.9,166.8 L1020.0,196.0 L1028.4,208.8 L1035.6,193.6 L1040.4,148.9 L1046.0,146.2 L1050.3,196.0 L1055.3,99.0 L1061.3,222.4 L1065.6,219.0 L1070.6,166.5 L1075.8,177.3 L1083.6,106.2 L1087.1,106.7 L1094.3,196.5 L1100.1,185.8 L1106.9,247.4 L1112.6,229.8 L1122.7,193.6 L1127.5,231.1 L1133.4,165.3 L1139.2,96.3 L1146.2,157.7 L1148.5,177.8 L1156.7,168.9 L1161.9,98.7 L1166.1,60.6 L1175.5,15.0 L1177.7,48.8 L1184.5,108.2 L1189.0,164.4 L1194.8,174.1 L1200.1,252.2" fill="none" stroke="#121212" stroke-width="1.35" stroke-linejoin="round"/></g>
<g fill="#000">
<circle cx="129.6" cy="175.4" r="4.15"/>
<circle cx="135.9" cy="236.6" r="4.15"/>
<circle cx="140.7" cy="175.4" r="4.15"/>
<circle cx="146.5" cy="84.0" r="4.15"/>
<circle cx="152.0" cy="63.2" r="4.15"/>
<circle cx="160.0" cy="194.0" r="4.15"/>
<circle cx="166.7" cy="232.5" r="4.15"/>
<circle cx="173.4" cy="175.4" r="4.15"/>
<circle cx="179.6" cy="159.0" r="4.15"/>
<circle cx="185.0" cy="87.2" r="4.15"/>
<circle cx="192.0" cy="46.7" r="4.15"/>
<circle cx="201.2" cy="104.2" r="4.15"/>
<circle cx="208.0" cy="144.6" r="4.15"/>
<circle cx="216.2" cy="174.9" r="4.15"/>
<circle cx="220.9" cy="171.3" r="4.15"/>
<circle cx="228.0" cy="196.5" r="4.15"/>
<circle cx="235.8" cy="188.8" r="4.15"/>
<circle cx="242.0" cy="194.7" r="4.15"/>
<circle cx="249.6" cy="182.0" r="4.15"/>
<circle cx="254.6" cy="183.0" r="4.15"/>
<circle cx="262.7" cy="202.0" r="4.15"/>
<circle cx="269.3" cy="162.7" r="4.15"/>
<circle cx="278.3" cy="110.7" r="4.15"/>
<circle cx="285.6" cy="79.8" r="4.15"/>
<circle cx="295.0" cy="158.0" r="4.15"/>
<circle cx="301.6" cy="81.3" r="4.15"/>
<circle cx="306.6" cy="87.0" r="4.15"/>
<circle cx="312.0" cy="96.0" r="4.15"/>
<circle cx="317.6" cy="148.5" r="4.15"/>
<circle cx="322.8" cy="194.5" r="4.15"/>
<circle cx="328.1" cy="217.8" r="4.15"/>
<circle cx="334.6" cy="134.2" r="4.15"/>
<circle cx="340.0" cy="134.2" r="4.15"/>
<circle cx="347.9" cy="210.4" r="4.15"/>
<circle cx="354.7" cy="237.3" r="4.15"/>
<circle cx="361.5" cy="155.0" r="4.15"/>
<circle cx="369.0" cy="131.3" r="4.15"/>
<circle cx="374.8" cy="200.5" r="4.15"/>
<circle cx="381.3" cy="249.0" r="4.15"/>
<circle cx="387.5" cy="272.0" r="4.15"/>
<circle cx="393.3" cy="221.2" r="4.15"/>
<circle cx="399.2" cy="55.6" r="4.15"/>
<circle cx="410.3" cy="133.8" r="4.15"/>
<circle cx="417.9" cy="177.2" r="4.15"/>
<circle cx="424.1" cy="263.5" r="4.15"/>
<circle cx="425.9" cy="287.2" r="4.15"/>
<circle cx="431.8" cy="263.5" r="4.15"/>
<circle cx="436.3" cy="207.0" r="4.15"/>
<circle cx="443.0" cy="222.6" r="4.15"/>
<circle cx="447.4" cy="165.8" r="4.15"/>
<circle cx="453.9" cy="143.9" r="4.15"/>
<circle cx="458.7" cy="155.5" r="4.15"/>
<circle cx="468.2" cy="147.1" r="4.15"/>
<circle cx="471.8" cy="45.2" r="4.15"/>
<circle cx="477.2" cy="86.1" r="4.15"/>
<circle cx="481.2" cy="50.2" r="4.15"/>
<circle cx="486.9" cy="59.6" r="4.15"/>
<circle cx="492.5" cy="121.6" r="4.15"/>
<circle cx="497.8" cy="128.6" r="4.15"/>
<circle cx="504.5" cy="131.8" r="4.15"/>
<circle cx="510.8" cy="146.7" r="4.15"/>
<circle cx="517.0" cy="150.7" r="4.15"/>
<circle cx="522.0" cy="180.7" r="4.15"/>
<circle cx="531.4" cy="126.8" r="4.15"/>
<circle cx="554.2" cy="126.5" r="4.15"/>
<circle cx="557.9" cy="87.0" r="4.15"/>
<circle cx="567.6" cy="131.3" r="4.15"/>
<circle cx="575.2" cy="189.3" r="4.15"/>
<circle cx="581.4" cy="193.8" r="4.15"/>
<circle cx="585.4" cy="146.2" r="4.15"/>
<circle cx="590.2" cy="152.5" r="4.15"/>
<circle cx="596.5" cy="115.7" r="4.15"/>
<circle cx="602.4" cy="106.7" r="4.15"/>
<circle cx="608.5" cy="106.7" r="4.15"/>
<circle cx="616.2" cy="139.9" r="4.15"/>
<circle cx="624.9" cy="46.1" r="4.15"/>
<circle cx="632.4" cy="72.1" r="4.15"/>
<circle cx="637.4" cy="136.0" r="4.15"/>
<circle cx="647.3" cy="185.8" r="4.15"/>
<circle cx="655.7" cy="152.7" r="4.15"/>
<circle cx="660.5" cy="216.9" r="4.15"/>
<circle cx="668.3" cy="183.3" r="4.15"/>
<circle cx="670.0" cy="191.1" r="4.15"/>
<circle cx="678.0" cy="188.9" r="4.15"/>
<circle cx="685.7" cy="182.0" r="4.15"/>
<circle cx="688.3" cy="161.9" r="4.15"/>
<circle cx="695.5" cy="173.2" r="4.15"/>
<circle cx="700.0" cy="142.6" r="4.15"/>
<circle cx="705.4" cy="144.9" r="4.15"/>
<circle cx="713.1" cy="282.2" r="4.15"/>
<circle cx="719.4" cy="267.1" r="4.15"/>
<circle cx="723.5" cy="214.0" r="4.15"/>
<circle cx="728.3" cy="217.6" r="4.15"/>
<circle cx="732.8" cy="193.8" r="4.15"/>
<circle cx="737.5" cy="197.4" r="4.15"/>
<circle cx="742.3" cy="166.6" r="4.15"/>
<circle cx="747.5" cy="156.3" r="4.15"/>
<circle cx="752.0" cy="189.5" r="4.15"/>
<circle cx="756.1" cy="167.5" r="4.15"/>
<circle cx="759.7" cy="175.7" r="4.15"/>
<circle cx="766.0" cy="209.5" r="4.15"/>
<circle cx="770.8" cy="227.1" r="4.15"/>
<circle cx="778.2" cy="206.0" r="4.15"/>
<circle cx="782.7" cy="276.1" r="4.15"/>
<circle cx="788.1" cy="250.1" r="4.15"/>
<circle cx="796.1" cy="125.2" r="4.15"/>
<circle cx="798.6" cy="231.1" r="4.15"/>
<circle cx="802.4" cy="100.5" r="4.15"/>
<circle cx="804.9" cy="78.9" r="4.15"/>
<circle cx="810.8" cy="54.7" r="4.15"/>
<circle cx="819.7" cy="149.8" r="4.15"/>
<circle cx="823.2" cy="145.3" r="4.15"/>
<circle cx="829.7" cy="183.5" r="4.15"/>
<circle cx="835.6" cy="172.7" r="4.15"/>
<circle cx="841.9" cy="153.4" r="4.15"/>
<circle cx="847.8" cy="133.6" r="4.15"/>
<circle cx="854.1" cy="187.4" r="4.15"/>
<circle cx="862.5" cy="179.4" r="4.15"/>
<circle cx="869.3" cy="196.0" r="4.15"/>
<circle cx="874.5" cy="103.1" r="4.15"/>
<circle cx="886.2" cy="170.4" r="4.15"/>
<circle cx="893.9" cy="183.0" r="4.15"/>
<circle cx="898.9" cy="123.2" r="4.15"/>
<circle cx="906.8" cy="154.8" r="4.15"/>
<circle cx="913.1" cy="92.0" r="4.15"/>
<circle cx="920.5" cy="145.7" r="4.15"/>
<circle cx="929.4" cy="142.6" r="4.15"/>
<circle cx="929.8" cy="174.9" r="4.15"/>
<circle cx="938.7" cy="181.2" r="4.15"/>
<circle cx="945.9" cy="194.1" r="4.15"/>
<circle cx="953.6" cy="219.6" r="4.15"/>
<circle cx="956.1" cy="161.1" r="4.15"/>
<circle cx="961.2" cy="150.3" r="4.15"/>
<circle cx="971.9" cy="121.1" r="4.15"/>
<circle cx="976.0" cy="80.2" r="4.15"/>
<circle cx="983.0" cy="168.6" r="4.15"/>
<circle cx="985.0" cy="176.1" r="4.15"/>
<circle cx="992.5" cy="168.6" r="4.15"/>
<circle cx="994.3" cy="183.9" r="4.15"/>
<circle cx="999.7" cy="142.6" r="4.15"/>
<circle cx="1004.6" cy="129.5" r="4.15"/>
<circle cx="1011.9" cy="166.8" r="4.15"/>
<circle cx="1020.0" cy="196.0" r="4.15"/>
<circle cx="1028.4" cy="208.8" r="4.15"/>
<circle cx="1035.6" cy="193.6" r="4.15"/>
<circle cx="1040.4" cy="148.9" r="4.15"/>
<circle cx="1046.0" cy="146.2" r="4.15"/>
<circle cx="1050.3" cy="196.0" r="4.15"/>
<circle cx="1055.3" cy="99.0" r="4.15"/>
<circle cx="1061.3" cy="222.4" r="4.15"/>
<circle cx="1065.6" cy="219.0" r="4.15"/>
<circle cx="1070.6" cy="166.5" r="4.15"/>
<circle cx="1075.8" cy="177.3" r="4.15"/>
<circle cx="1083.6" cy="106.2" r="4.15"/>
<circle cx="1087.1" cy="106.7" r="4.15"/>
<circle cx="1094.3" cy="196.5" r="4.15"/>
<circle cx="1100.1" cy="185.8" r="4.15"/>
<circle cx="1106.9" cy="247.4" r="4.15"/>
<circle cx="1112.6" cy="229.8" r="4.15"/>
<circle cx="1122.7" cy="193.6" r="4.15"/>
<circle cx="1127.5" cy="231.1" r="4.15"/>
<circle cx="1133.4" cy="165.3" r="4.15"/>
<circle cx="1139.2" cy="96.3" r="4.15"/>
<circle cx="1146.2" cy="157.7" r="4.15"/>
<circle cx="1148.5" cy="177.8" r="4.15"/>
<circle cx="1156.7" cy="168.9" r="4.15"/>
<circle cx="1161.9" cy="98.7" r="4.15"/>
<circle cx="1166.1" cy="60.6" r="4.15"/>
<circle cx="1177.7" cy="48.8" r="4.15"/>
<circle cx="1184.5" cy="108.2" r="4.15"/>
<circle cx="1189.0" cy="164.4" r="4.15"/>
<circle cx="1194.8" cy="174.1" r="4.15"/>
<circle cx="1200.1" cy="252.2" r="4.15"/>
</g>
<g><path d="M630.5,497.7 L634.1,478.0 L638.0,479.8 L641.6,482.5 L644.3,516.6 L647.5,499.5 L651.1,470.4 L654.2,451.2 L657.7,414.1 L662.8,420.4 L667.8,428.8 L671.2,416.8 L674.4,440.4 L678.9,442.9 L682.1,412.8 L688.2,394.1 L692.4,418.1 L695.1,440.3 L698.3,446.5 L702.2,433.7 L705.5,443.1 L708.9,451.5 L712.1,464.9 L716.0,447.6 L719.3,426.6 L722.5,409.0 L726.1,457.1 L729.5,473.0 L732.7,460.0 L735.8,440.4 L738.1,492.0 L741.7,488.0 L744.4,506.6 L749.2,517.0 L753.7,443.6 L759.1,405.4 L759.8,446.3 L765.4,456.6 L771.8,417.8 L779.3,363.6 L786.9,383.3 L795.1,368.1 L803.6,345.6 L812.2,436.7 L820.6,460.4 L829.6,423.0 L837.6,390.5 L846.9,396.7 L856.1,373.9 L865.1,319.2 L874.4,336.4 L883.9,347.5 L893.3,344.5 L902.8,334.1 L912.1,365.5 L920.3,412.4 L929.1,417.8 L937.4,422.3 L945.3,383.4 L952.4,412.4 L959.8,423.2 L966.8,392.0 L973.1,381.1 L979.5,403.1 L986.2,386.1 L991.9,318.5 L998.2,359.2 L1003.7,411.7 L1010.0,397.7 L1015.4,453.3 L1020.6,383.4 L1026.5,390.2 L1031.0,397.4 L1035.5,422.0 L1040.3,408.5 L1045.7,416.9 L1051.6,404.6 L1057.5,432.7 L1065.1,393.3 L1071.8,431.4 L1079.2,431.4 L1081.1,442.1 L1077.4,448.8 L1082.0,458.4 L1079.1,462.8 L1079.7,469.9 L1079.7,493.3 L1084.2,495.9 L1087.4,510.7 L1092.2,503.5" fill="none" stroke="#121212" stroke-width="1.35" stroke-linejoin="round"/></g>
<g fill="#000">
<circle cx="630.5" cy="497.7" r="4.15"/>
<circle cx="634.1" cy="478.0" r="4.15"/>
<circle cx="638.0" cy="479.8" r="4.15"/>
<circle cx="641.6" cy="482.5" r="4.15"/>
<circle cx="647.5" cy="499.5" r="4.15"/>
<circle cx="651.1" cy="470.4" r="4.15"/>
<circle cx="654.2" cy="451.2" r="4.15"/>
<circle cx="657.7" cy="414.1" r="4.15"/>
<circle cx="662.8" cy="420.4" r="4.15"/>
<circle cx="667.8" cy="428.8" r="4.15"/>
<circle cx="671.2" cy="416.8" r="4.15"/>
<circle cx="674.4" cy="440.4" r="4.15"/>
<circle cx="678.9" cy="442.9" r="4.15"/>
<circle cx="682.1" cy="412.8" r="4.15"/>
<circle cx="688.2" cy="394.1" r="4.15"/>
<circle cx="692.4" cy="418.1" r="4.15"/>
<circle cx="695.1" cy="440.3" r="4.15"/>
<circle cx="698.3" cy="446.5" r="4.15"/>
<circle cx="702.2" cy="433.7" r="4.15"/>
<circle cx="705.5" cy="443.1" r="4.15"/>
<circle cx="708.9" cy="451.5" r="4.15"/>
<circle cx="712.1" cy="464.9" r="4.15"/>
<circle cx="716.0" cy="447.6" r="4.15"/>
<circle cx="719.3" cy="426.6" r="4.15"/>
<circle cx="722.5" cy="409.0" r="4.15"/>
<circle cx="726.1" cy="457.1" r="4.15"/>
<circle cx="729.5" cy="473.0" r="4.15"/>
<circle cx="732.7" cy="460.0" r="4.15"/>
<circle cx="735.8" cy="440.4" r="4.15"/>
<circle cx="738.1" cy="492.0" r="4.15"/>
<circle cx="741.7" cy="488.0" r="4.15"/>
<circle cx="744.4" cy="506.6" r="4.15"/>
<circle cx="749.2" cy="517.0" r="4.15"/>
<circle cx="753.7" cy="443.6" r="4.15"/>
<circle cx="759.1" cy="405.4" r="4.15"/>
<circle cx="759.8" cy="446.3" r="4.15"/>
<circle cx="765.4" cy="456.6" r="4.15"/>
<circle cx="771.8" cy="417.8" r="4.15"/>
<circle cx="779.3" cy="363.6" r="4.15"/>
<circle cx="786.9" cy="383.3" r="4.15"/>
<circle cx="795.1" cy="368.1" r="4.15"/>
<circle cx="803.6" cy="345.6" r="4.15"/>
<circle cx="812.2" cy="436.7" r="4.15"/>
<circle cx="820.6" cy="460.4" r="4.15"/>
<circle cx="829.6" cy="423.0" r="4.15"/>
<circle cx="837.6" cy="390.5" r="4.15"/>
<circle cx="846.9" cy="396.7" r="4.15"/>
<circle cx="856.1" cy="373.9" r="4.15"/>
<circle cx="865.1" cy="319.2" r="4.15"/>
<circle cx="874.4" cy="336.4" r="4.15"/>
<circle cx="883.9" cy="347.5" r="4.15"/>
<circle cx="893.3" cy="344.5" r="4.15"/>
<circle cx="902.8" cy="334.1" r="4.15"/>
<circle cx="912.1" cy="365.5" r="4.15"/>
<circle cx="920.3" cy="412.4" r="4.15"/>
<circle cx="929.1" cy="417.8" r="4.15"/>
<circle cx="937.4" cy="422.3" r="4.15"/>
<circle cx="945.3" cy="383.4" r="4.15"/>
<circle cx="952.4" cy="412.4" r="4.15"/>
<circle cx="959.8" cy="423.2" r="4.15"/>
<circle cx="966.8" cy="392.0" r="4.15"/>
<circle cx="973.1" cy="381.1" r="4.15"/>
<circle cx="979.5" cy="403.1" r="4.15"/>
<circle cx="986.2" cy="386.1" r="4.15"/>
<circle cx="991.9" cy="318.5" r="4.15"/>
<circle cx="998.2" cy="359.2" r="4.15"/>
<circle cx="1003.7" cy="411.7" r="4.15"/>
<circle cx="1010.0" cy="397.7" r="4.15"/>
<circle cx="1015.4" cy="453.3" r="4.15"/>
<circle cx="1020.6" cy="383.4" r="4.15"/>
<circle cx="1026.5" cy="390.2" r="4.15"/>
<circle cx="1031.0" cy="397.4" r="4.15"/>
<circle cx="1035.5" cy="422.0" r="4.15"/>
<circle cx="1040.3" cy="408.5" r="4.15"/>
<circle cx="1045.7" cy="416.9" r="4.15"/>
<circle cx="1051.6" cy="404.6" r="4.15"/>
<circle cx="1057.5" cy="432.7" r="4.15"/>
<circle cx="1065.1" cy="393.3" r="4.15"/>
<circle cx="1071.8" cy="431.4" r="4.15"/>
<circle cx="1079.2" cy="431.4" r="4.15"/>
<circle cx="1081.1" cy="442.1" r="4.15"/>
<circle cx="1077.4" cy="448.8" r="4.15"/>
<circle cx="1082.0" cy="458.4" r="4.15"/>
<circle cx="1079.1" cy="462.8" r="4.15"/>
<circle cx="1079.7" cy="469.9" r="4.15"/>
<circle cx="1079.7" cy="493.3" r="4.15"/>
<circle cx="1084.2" cy="495.9" r="4.15"/>
<circle cx="1087.4" cy="510.7" r="4.15"/>
<circle cx="1092.2" cy="503.5" r="4.15"/>
</g>
<g clip-path="url(#ca)"><path d="M98.6,662.3 L105.2,671.2 L111.2,678.1 L117.4,691.0 L123.5,733.1 L129.8,718.2 L136.3,751.6 L142.5,759.5 L148.6,785.4 L155.5,726.8 L161.7,718.4 L168.4,754.3 L174.8,750.5 L181.5,727.4 L187.7,755.5 L194.6,755.5 L201.2,749.6 L207.5,805.0 L213.7,778.5 L220.4,753.7 L227.2,739.4 L234.0,733.1 L240.1,698.2 L246.9,664.1 L253.7,729.2 L260.4,751.4 L267.2,773.5 L273.8,796.0 L280.5,775.8 L286.9,757.9 L293.6,663.2 L300.4,586.3 L307.4,635.8 L313.8,693.7 L320.1,757.3 L327.1,778.9 L333.5,731.3 L339.6,701.7 L347.0,622.0 L353.9,695.5 L360.5,695.5 L367.1,666.5 L373.9,682.5 L380.6,631.3 L387.4,637.6 L394.0,644.2 L400.8,650.5 L407.1,631.3 L413.9,627.4 L420.6,566.4 L427.2,632.8 L434.0,617.3 L439.9,577.5 L446.9,598.5 L453.4,684.2 L459.7,594.6 L466.3,635.8 L472.9,550.3 L479.4,615.2 L485.8,699.5 L491.9,711.6 L498.6,683.0 L504.9,651.5 L511.1,635.3 L518.0,635.3 L524.2,658.8 L530.5,667.7 L537.1,659.1 L543.8,664.1 L550.0,671.1 L556.5,685.1 L562.8,670.4 L569.3,681.4 L575.4,647.1 L581.7,670.6 L587.9,633.3 L594.6,646.7 L600.8,660.2 L607.3,596.5 L613.9,608.1 L619.9,630.2 L626.5,611.7 L632.8,620.7 L639.4,628.8 L645.0,681.7 L650.7,654.2 L657.3,647.1 L662.4,620.2 L667.7,626.6 L673.1,632.4 L677.2,641.7 L679.0,618.0 L681.5,604.6 L683.0,627.9 L685.1,573.4 L686.9,627.0 L688.7,611.7 L690.6,667.6 L692.8,656.2 L694.6,605.8 L698.2,551.7 L700.1,515.5 L702.7,609.6 L704.1,676.7 L707.5,691.3 L705.7,709.0 L709.9,646.5 L711.6,583.8 L712.9,615.0 L714.9,653.9 L717.1,671.3 L721.0,609.9 L722.8,638.6 L720.7,654.7 L724.9,670.1 L726.6,694.2 L728.2,746.8 L730.5,772.3 L731.8,751.2 L734.3,721.2 L738.6,713.1 L741.5,687.8 L743.3,656.6 L745.4,680.2 L747.8,703.9 L749.3,683.5 L751.6,705.5 L753.4,643.8 L756.4,646.3 L755.6,669.1 L758.3,660.7 L757.4,675.7 L759.3,708.3 L757.8,719.9 L760.1,672.7 L762.8,665.5 L764.1,635.9 L765.5,556.2 L765.2,583.9 L764.6,617.1 L765.1,636.3 L767.2,663.7 L767.2,685.3 L768.9,736.6 L768.7,800.0 L770.0,800.0 L771.8,742.0 L771.8,702.0 L774.7,710.3 L775.2,728.5 L775.2,663.6 L776.4,592.0 L778.0,617.1 L779.7,646.5 L783.4,609.9 L784.5,589.3 L784.3,626.7 L786.1,627.0 L788.5,656.6 L786.4,665.8 L787.1,686.3 L791.0,693.7 L792.2,666.2 L793.8,640.8 L801.5,629.8 L809.0,601.5 L817.2,608.2 L824.6,651.4 L832.6,613.2 L839.8,667.3 L848.1,666.1 L856.0,650.5 L869.9,639.7 L884.6,678.1 L899.0,705.0 L913.3,738.4 L927.7,761.7 L942.2,728.5 L956.4,742.8 L970.7,737.8 L985.3,736.0 L999.4,749.8 L1014.3,768.9 L1028.7,719.9 L1042.4,691.2 L1056.4,678.1 L1069.8,652.7 L1083.8,658.4 L1097.3,671.5 L1110.7,676.7 L1124.5,671.0 L1138.0,663.8 L1146.9,662.5 L1150.2,644.4 L1153.2,631.9 L1156.4,668.3 L1162.7,670.4 L1165.4,650.9 L1168.1,704.2 L1171.3,747.2 L1174.4,733.7 L1176.2,718.9 L1178.0,699.7 L1179.2,688.4 L1181.5,699.3 L1181.9,722.4 L1185.7,709.2 L1187.8,718.1 L1189.6,739.7 L1192.3,732.5 L1194.1,711.7 L1197.7,702.9 L1200.4,712.2 L1203.6,715.8 L1206.7,718.9 L1207.5,688.4 L1210.2,690.7 L1212.0,733.7 L1214.7,711.7 L1217.4,736.1 L1220.1,733.7 L1221.4,749.0 L1223.7,693.8 L1225.8,708.6 L1227.3,655.7 L1229.6,676.0 L1231.8,664.7 L1235.0,661.1 L1238.0,704.2 L1241.3,682.3 L1243.4,631.2 L1246.1,658.1 L1247.5,653.6" fill="none" stroke="#121212" stroke-width="1.35" stroke-linejoin="round"/></g>
<g fill="#000">
<circle cx="98.6" cy="662.3" r="4.15"/>
<circle cx="105.2" cy="671.2" r="4.15"/>
<circle cx="111.2" cy="678.1" r="4.15"/>
<circle cx="117.4" cy="691.0" r="4.15"/>
<circle cx="123.5" cy="733.1" r="4.15"/>
<circle cx="129.8" cy="718.2" r="4.15"/>
<circle cx="136.3" cy="751.6" r="4.15"/>
<circle cx="142.5" cy="759.5" r="4.15"/>
<circle cx="155.5" cy="726.8" r="4.15"/>
<circle cx="161.7" cy="718.4" r="4.15"/>
<circle cx="168.4" cy="754.3" r="4.15"/>
<circle cx="174.8" cy="750.5" r="4.15"/>
<circle cx="181.5" cy="727.4" r="4.15"/>
<circle cx="187.7" cy="755.5" r="4.15"/>
<circle cx="194.6" cy="755.5" r="4.15"/>
<circle cx="201.2" cy="749.6" r="4.15"/>
<circle cx="213.7" cy="778.5" r="4.15"/>
<circle cx="220.4" cy="753.7" r="4.15"/>
<circle cx="227.2" cy="739.4" r="4.15"/>
<circle cx="234.0" cy="733.1" r="4.15"/>
<circle cx="240.1" cy="698.2" r="4.15"/>
<circle cx="246.9" cy="664.1" r="4.15"/>
<circle cx="253.7" cy="729.2" r="4.15"/>
<circle cx="260.4" cy="751.4" r="4.15"/>
<circle cx="267.2" cy="773.5" r="4.15"/>
<circle cx="280.5" cy="775.8" r="4.15"/>
<circle cx="286.9" cy="757.9" r="4.15"/>
<circle cx="293.6" cy="663.2" r="4.15"/>
<circle cx="300.4" cy="586.3" r="4.15"/>
<circle cx="307.4" cy="635.8" r="4.15"/>
<circle cx="313.8" cy="693.7" r="4.15"/>
<circle cx="320.1" cy="757.3" r="4.15"/>
<circle cx="327.1" cy="778.9" r="4.15"/>
<circle cx="333.5" cy="731.3" r="4.15"/>
<circle cx="339.6" cy="701.7" r="4.15"/>
<circle cx="347.0" cy="622.0" r="4.15"/>
<circle cx="353.9" cy="695.5" r="4.15"/>
<circle cx="360.5" cy="695.5" r="4.15"/>
<circle cx="367.1" cy="666.5" r="4.15"/>
<circle cx="373.9" cy="682.5" r="4.15"/>
<circle cx="380.6" cy="631.3" r="4.15"/>
<circle cx="387.4" cy="637.6" r="4.15"/>
<circle cx="394.0" cy="644.2" r="4.15"/>
<circle cx="400.8" cy="650.5" r="4.15"/>
<circle cx="407.1" cy="631.3" r="4.15"/>
<circle cx="413.9" cy="627.4" r="4.15"/>
<circle cx="420.6" cy="566.4" r="4.15"/>
<circle cx="427.2" cy="632.8" r="4.15"/>
<circle cx="434.0" cy="617.3" r="4.15"/>
<circle cx="439.9" cy="577.5" r="4.15"/>
<circle cx="446.9" cy="598.5" r="4.15"/>
<circle cx="453.4" cy="684.2" r="4.15"/>
<circle cx="459.7" cy="594.6" r="4.15"/>
<circle cx="466.3" cy="635.8" r="4.15"/>
<circle cx="472.9" cy="550.3" r="4.15"/>
<circle cx="479.4" cy="615.2" r="4.15"/>
<circle cx="485.8" cy="699.5" r="4.15"/>
<circle cx="491.9" cy="711.6" r="4.15"/>
<circle cx="498.6" cy="683.0" r="4.15"/>
<circle cx="504.9" cy="651.5" r="4.15"/>
<circle cx="511.1" cy="635.3" r="4.15"/>
<circle cx="518.0" cy="635.3" r="4.15"/>
<circle cx="524.2" cy="658.8" r="4.15"/>
<circle cx="530.5" cy="667.7" r="4.15"/>
<circle cx="537.1" cy="659.1" r="4.15"/>
<circle cx="543.8" cy="664.1" r="4.15"/>
<circle cx="550.0" cy="671.1" r="4.15"/>
<circle cx="556.5" cy="685.1" r="4.15"/>
<circle cx="562.8" cy="670.4" r="4.15"/>
<circle cx="569.3" cy="681.4" r="4.15"/>
<circle cx="575.4" cy="647.1" r="4.15"/>
<circle cx="581.7" cy="670.6" r="4.15"/>
<circle cx="587.9" cy="633.3" r="4.15"/>
<circle cx="594.6" cy="646.7" r="4.15"/>
<circle cx="600.8" cy="660.2" r="4.15"/>
<circle cx="607.3" cy="596.5" r="4.15"/>
<circle cx="613.9" cy="608.1" r="4.15"/>
<circle cx="619.9" cy="630.2" r="4.15"/>
<circle cx="626.5" cy="611.7" r="4.15"/>
<circle cx="632.8" cy="620.7" r="4.15"/>
<circle cx="639.4" cy="628.8" r="4.15"/>
<circle cx="645.0" cy="681.7" r="4.15"/>
<circle cx="650.7" cy="654.2" r="4.15"/>
<circle cx="657.3" cy="647.1" r="4.15"/>
<circle cx="662.4" cy="620.2" r="4.15"/>
<circle cx="667.7" cy="626.6" r="4.15"/>
<circle cx="673.1" cy="632.4" r="4.15"/>
<circle cx="677.2" cy="641.7" r="4.15"/>
<circle cx="679.0" cy="618.0" r="4.15"/>
<circle cx="681.5" cy="604.6" r="4.15"/>
<circle cx="683.0" cy="627.9" r="4.15"/>
<circle cx="685.1" cy="573.4" r="4.15"/>
<circle cx="686.9" cy="627.0" r="4.15"/>
<circle cx="688.7" cy="611.7" r="4.15"/>
<circle cx="690.6" cy="667.6" r="4.15"/>
<circle cx="692.8" cy="656.2" r="4.15"/>
<circle cx="694.6" cy="605.8" r="4.15"/>
<circle cx="698.2" cy="551.7" r="4.15"/>
<circle cx="700.1" cy="515.5" r="4.15"/>
<circle cx="702.7" cy="609.6" r="4.15"/>
<circle cx="704.1" cy="676.7" r="4.15"/>
<circle cx="707.5" cy="691.3" r="4.15"/>
<circle cx="705.7" cy="709.0" r="4.15"/>
<circle cx="709.9" cy="646.5" r="4.15"/>
<circle cx="711.6" cy="583.8" r="4.15"/>
<circle cx="712.9" cy="615.0" r="4.15"/>
<circle cx="714.9" cy="653.9" r="4.15"/>
<circle cx="717.1" cy="671.3" r="4.15"/>
<circle cx="721.0" cy="609.9" r="4.15"/>
<circle cx="722.8" cy="638.6" r="4.15"/>
<circle cx="720.7" cy="654.7" r="4.15"/>
<circle cx="724.9" cy="670.1" r="4.15"/>
<circle cx="726.6" cy="694.2" r="4.15"/>
<circle cx="728.2" cy="746.8" r="4.15"/>
<circle cx="730.5" cy="772.3" r="4.15"/>
<circle cx="731.8" cy="751.2" r="4.15"/>
<circle cx="734.3" cy="721.2" r="4.15"/>
<circle cx="738.6" cy="713.1" r="4.15"/>
<circle cx="741.5" cy="687.8" r="4.15"/>
<circle cx="743.3" cy="656.6" r="4.15"/>
<circle cx="745.4" cy="680.2" r="4.15"/>
<circle cx="747.8" cy="703.9" r="4.15"/>
<circle cx="749.3" cy="683.5" r="4.15"/>
<circle cx="751.6" cy="705.5" r="4.15"/>
<circle cx="753.4" cy="643.8" r="4.15"/>
<circle cx="756.4" cy="646.3" r="4.15"/>
<circle cx="755.6" cy="669.1" r="4.15"/>
<circle cx="758.3" cy="660.7" r="4.15"/>
<circle cx="757.4" cy="675.7" r="4.15"/>
<circle cx="759.3" cy="708.3" r="4.15"/>
<circle cx="757.8" cy="719.9" r="4.15"/>
<circle cx="760.1" cy="672.7" r="4.15"/>
<circle cx="762.8" cy="665.5" r="4.15"/>
<circle cx="764.1" cy="635.9" r="4.15"/>
<circle cx="765.5" cy="556.2" r="4.15"/>
<circle cx="765.2" cy="583.9" r="4.15"/>
<circle cx="764.6" cy="617.1" r="4.15"/>
<circle cx="765.1" cy="636.3" r="4.15"/>
<circle cx="767.2" cy="663.7" r="4.15"/>
<circle cx="767.2" cy="685.3" r="4.15"/>
<circle cx="768.9" cy="736.6" r="4.15"/>
<circle cx="771.8" cy="742.0" r="4.15"/>
<circle cx="771.8" cy="702.0" r="4.15"/>
<circle cx="774.7" cy="710.3" r="4.15"/>
<circle cx="775.2" cy="728.5" r="4.15"/>
<circle cx="775.2" cy="663.6" r="4.15"/>
<circle cx="776.4" cy="592.0" r="4.15"/>
<circle cx="778.0" cy="617.1" r="4.15"/>
<circle cx="779.7" cy="646.5" r="4.15"/>
<circle cx="783.4" cy="609.9" r="4.15"/>
<circle cx="784.5" cy="589.3" r="4.15"/>
<circle cx="784.3" cy="626.7" r="4.15"/>
<circle cx="786.1" cy="627.0" r="4.15"/>
<circle cx="788.5" cy="656.6" r="4.15"/>
<circle cx="786.4" cy="665.8" r="4.15"/>
<circle cx="787.1" cy="686.3" r="4.15"/>
<circle cx="791.0" cy="693.7" r="4.15"/>
<circle cx="792.2" cy="666.2" r="4.15"/>
<circle cx="793.8" cy="640.8" r="4.15"/>
<circle cx="801.5" cy="629.8" r="4.15"/>
<circle cx="809.0" cy="601.5" r="4.15"/>
<circle cx="817.2" cy="608.2" r="4.15"/>
<circle cx="824.6" cy="651.4" r="4.15"/>
<circle cx="832.6" cy="613.2" r="4.15"/>
<circle cx="839.8" cy="667.3" r="4.15"/>
<circle cx="848.1" cy="666.1" r="4.15"/>
<circle cx="856.0" cy="650.5" r="4.15"/>
<circle cx="869.9" cy="639.7" r="4.15"/>
<circle cx="884.6" cy="678.1" r="4.15"/>
<circle cx="899.0" cy="705.0" r="4.15"/>
<circle cx="913.3" cy="738.4" r="4.15"/>
<circle cx="927.7" cy="761.7" r="4.15"/>
<circle cx="942.2" cy="728.5" r="4.15"/>
<circle cx="956.4" cy="742.8" r="4.15"/>
<circle cx="970.7" cy="737.8" r="4.15"/>
<circle cx="985.3" cy="736.0" r="4.15"/>
<circle cx="999.4" cy="749.8" r="4.15"/>
<circle cx="1014.3" cy="768.9" r="4.15"/>
<circle cx="1028.7" cy="719.9" r="4.15"/>
<circle cx="1042.4" cy="691.2" r="4.15"/>
<circle cx="1056.4" cy="678.1" r="4.15"/>
<circle cx="1069.8" cy="652.7" r="4.15"/>
<circle cx="1083.8" cy="658.4" r="4.15"/>
<circle cx="1097.3" cy="671.5" r="4.15"/>
<circle cx="1110.7" cy="676.7" r="4.15"/>
<circle cx="1124.5" cy="671.0" r="4.15"/>
<circle cx="1138.0" cy="663.8" r="4.15"/>
<circle cx="1146.9" cy="662.5" r="4.15"/>
<circle cx="1150.2" cy="644.4" r="4.15"/>
<circle cx="1153.2" cy="631.9" r="4.15"/>
<circle cx="1156.4" cy="668.3" r="4.15"/>
<circle cx="1162.7" cy="670.4" r="4.15"/>
<circle cx="1165.4" cy="650.9" r="4.15"/>
<circle cx="1168.1" cy="704.2" r="4.15"/>
<circle cx="1171.3" cy="747.2" r="4.15"/>
<circle cx="1174.4" cy="733.7" r="4.15"/>
<circle cx="1176.2" cy="718.9" r="4.15"/>
<circle cx="1178.0" cy="699.7" r="4.15"/>
<circle cx="1179.2" cy="688.4" r="4.15"/>
<circle cx="1181.5" cy="699.3" r="4.15"/>
<circle cx="1181.9" cy="722.4" r="4.15"/>
<circle cx="1185.7" cy="709.2" r="4.15"/>
<circle cx="1187.8" cy="718.1" r="4.15"/>
<circle cx="1189.6" cy="739.7" r="4.15"/>
<circle cx="1192.3" cy="732.5" r="4.15"/>
<circle cx="1194.1" cy="711.7" r="4.15"/>
<circle cx="1197.7" cy="702.9" r="4.15"/>
<circle cx="1200.4" cy="712.2" r="4.15"/>
<circle cx="1203.6" cy="715.8" r="4.15"/>
<circle cx="1206.7" cy="718.9" r="4.15"/>
<circle cx="1207.5" cy="688.4" r="4.15"/>
<circle cx="1210.2" cy="690.7" r="4.15"/>
<circle cx="1212.0" cy="733.7" r="4.15"/>
<circle cx="1214.7" cy="711.7" r="4.15"/>
<circle cx="1217.4" cy="736.1" r="4.15"/>
<circle cx="1220.1" cy="733.7" r="4.15"/>
<circle cx="1221.4" cy="749.0" r="4.15"/>
<circle cx="1223.7" cy="693.8" r="4.15"/>
<circle cx="1225.8" cy="708.6" r="4.15"/>
<circle cx="1227.3" cy="655.7" r="4.15"/>
<circle cx="1229.6" cy="676.0" r="4.15"/>
<circle cx="1231.8" cy="664.7" r="4.15"/>
<circle cx="1235.0" cy="661.1" r="4.15"/>
<circle cx="1238.0" cy="704.2" r="4.15"/>
<circle cx="1241.3" cy="682.3" r="4.15"/>
<circle cx="1243.4" cy="631.2" r="4.15"/>
<circle cx="1246.1" cy="658.1" r="4.15"/>
<circle cx="1247.5" cy="653.6" r="4.15"/>
</g>
<line x1="142.6" y1="269.4" x2="171.6" y2="269.4" stroke="#1e1e1e" stroke-width="1.6"/><circle cx="157.1" cy="269.4" r="4.1" fill="#000"/>
<line x1="142.6" y1="296.1" x2="171.6" y2="296.1" stroke="#888888" stroke-width="1.6"/><circle cx="157.1" cy="296.1" r="4.1" fill="#828282"/>
<text class="in" x="180.8" y="276.8" textLength="148.2" lengthAdjust="spacingAndGlyphs">Original δ<tspan dy="-8.2" font-size="14.9px">18</tspan><tspan dy="8.2">O</tspan></text>
<text class="in" x="181.3" y="306.4" textLength="190.6" lengthAdjust="spacingAndGlyphs">5 pt average δ<tspan dy="-8.2" font-size="14.9px">18</tspan><tspan dy="8.2">O</tspan></text>
<text class="in" x="514.6" y="484.4" textLength="72.1" lengthAdjust="spacingAndGlyphs">Hiatus</text>
<text class="in" x="610.8" y="353.8" textLength="176.4" lengthAdjust="spacingAndGlyphs">Adjusted values</text>
</g></svg></body></html>
